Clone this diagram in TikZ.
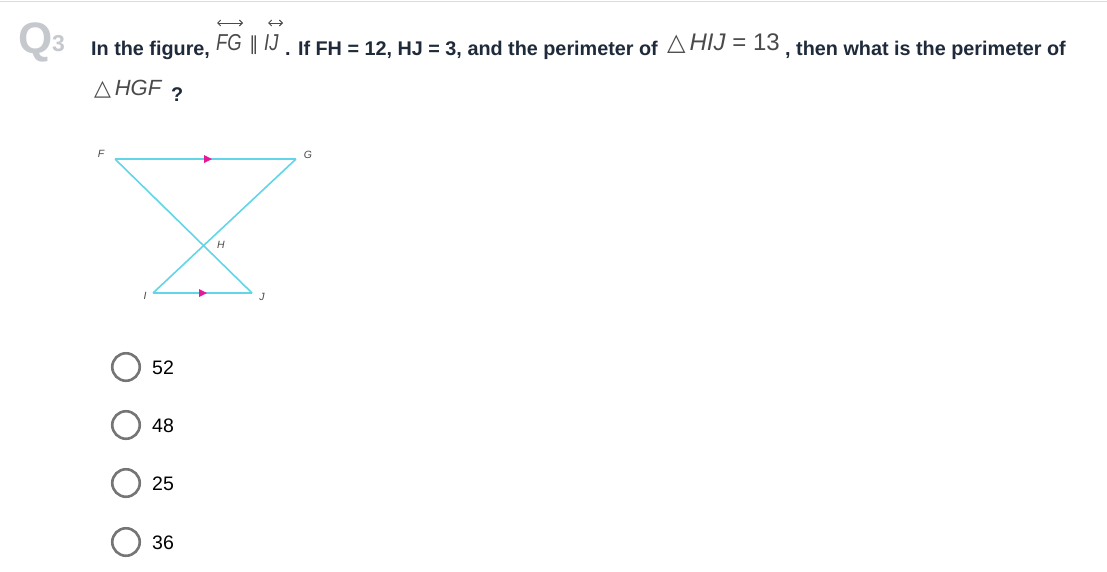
\documentclass[tikz,border=0pt]{standalone}
\usepackage{fontspec}
\usepackage{graphicx}
\setmainfont{Liberation Sans}
\newfontfamily\symfont{DejaVu Sans}
\usetikzlibrary{arrows.meta}
\definecolor{txt}{HTML}{1F2A3A}
\definecolor{mathc}{HTML}{4A4A4A}
\definecolor{qgray}{HTML}{C5C8CD}
\definecolor{cyanl}{HTML}{62D6E8}
\definecolor{mag}{HTML}{E8179A}
\definecolor{ring}{HTML}{757575}
\definecolor{rule}{HTML}{DADCE0}
\tikzset{
  body/.style={inner sep=0pt, anchor=base west, text=txt, font=\fontsize{19.8}{24}\selectfont\bfseries},
  mth/.style={inner sep=0pt, anchor=base west, text=mathc, font=\fontsize{23}{26}\selectfont},
  lbl/.style={inner sep=0pt, text=mathc, font=\fontsize{10.5}{12}\selectfont\itshape},
  seg/.style={draw=cyanl, line width=1.6pt},
  tick/.style={fill=mag},
  ringc/.style={draw=ring, line width=2.6pt, circle, minimum size=27.5pt, inner sep=0pt},
  opt/.style={inner sep=0pt, anchor=base west, text=black, font=\fontsize{19.5}{22}\selectfont},
  harrow/.style={draw=mathc, line width=0.9pt, {Straight Barb[length=3pt]}-{Straight Barb[length=3pt]}}
}
\begin{document}
\begin{tikzpicture}[x=1pt,y=-1pt]
\useasboundingbox[fill=white] (0,0) rectangle (1107,571);
\draw[rule, line width=1pt] (0,1.5) -- (1107,1.5);
% Q3
\node[inner sep=0pt, anchor=base west, text=qgray, font=\fontsize{44}{46}\selectfont\bfseries] (q) at (18,53) {Q};
\node[inner sep=0pt, anchor=base west, text=qgray, font=\fontsize{23}{26}\selectfont\bfseries] (q3) at (52,51) {3};
% line 1
\node[body] (t1) at (91,55) {In the figure,};
\node[mth] (fg) at (216,50) {\scalebox{0.8}[1]{\itshape FG}};
\coordinate (fga) at (217,23);
\coordinate (fgb) at (243,23);
\draw[harrow] (fga) -- (fgb);
\node[inner sep=0pt, anchor=base west, text=mathc, font=\fontsize{19}{22}\selectfont] (par) at (249,50) {\symfont ∥};
\node[mth] (ij) at (264,50) {\scalebox{0.8}[1]{\itshape IJ}};
\coordinate (ija) at (268,23);
\coordinate (ijb) at (283,23);
\draw[harrow] (ija) -- (ijb);
\node[body] (t2) at (285,55) {. If FH = 12, HJ = 3, and the perimeter of};
\node[inner sep=0pt, anchor=base west, text=mathc, font=\fontsize{24}{28}\selectfont] (hij) at (667,50) {{\symfont △}\,\itshape HIJ\upshape\ = 13};
\node[body] (t3) at (785,55) {, then what is the perimeter of};
% line 2
\node[inner sep=0pt, anchor=base west, text=mathc, font=\fontsize{22}{26}\selectfont] (hgf) at (94,95) {{\symfont △}\,\itshape HGF};
\node[body] (qm) at (171,101) {?};
% figure
\coordinate (F) at (115,159);
\coordinate (G) at (296,159);
\coordinate (H) at (204,246);
\coordinate (I) at (153,293);
\coordinate (J) at (252,293);
\draw[seg] (F) -- (G);
\draw[seg] (I) -- (J);
\draw[seg] (F) -- (J);
\draw[seg] (G) -- (I);
\coordinate (m1) at (208,159);
\coordinate (m2) at (203,293);
\fill[tick] ([xshift=-4pt,yshift=-4pt]m1) -- ([xshift=4pt]m1) -- ([xshift=-4pt,yshift=4pt]m1) -- cycle;
\fill[tick] ([xshift=-4pt,yshift=-4pt]m2) -- ([xshift=4pt]m2) -- ([xshift=-4pt,yshift=4pt]m2) -- cycle;
\node[lbl] (lF) at (101,154) {F};
\node[lbl] (lG) at (308,155) {G};
\node[lbl] (lH) at (221,245) {H};
\node[lbl] (lI) at (145,296) {I};
\node[lbl] (lJ) at (262,297) {J};
% options
\node[ringc] (o1) at (126,367) {};
\node[ringc] (o2) at (126,425) {};
\node[ringc] (o3) at (126,483) {};
\node[ringc] (o4) at (126,542) {};
\node[opt] (a1) at (152,374) {52};
\node[opt] (a2) at (152,432) {48};
\node[opt] (a3) at (152,490) {25};
\node[opt] (a4) at (152,549) {36};
\end{tikzpicture}
\end{document}
